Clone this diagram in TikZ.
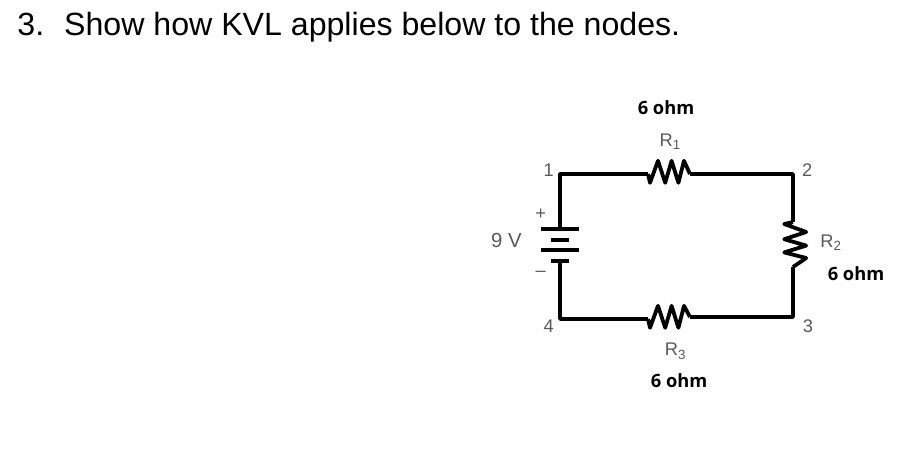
\documentclass[tikz,border=0pt]{standalone}
\usepackage{fontspec}
\setmainfont{Liberation Sans}
\newfontfamily\ohmfont{Open Sans}
\usetikzlibrary{calc,positioning}
\definecolor{labelgray}{gray}{0.35}
\newcommand{\sub}[1]{\raisebox{-0.35ex}{\fontsize{9.5}{11}\selectfont #1}}
\tikzset{
  wire/.style={line width=2.7pt,line join=round},
  res/.style={to path={-- ++(.05,-.22) -- ++(.2,.55) -- ++(.18,-.55) -- ++(.16,.55) -- ++(.17,-.55) -- ++(.14,.55) -- (\tikztotarget)}},
  longplate/.style={fill=black,inner sep=0,minimum width=0.95cm,minimum height=0.1cm},
  shortplate/.style={fill=black,inner sep=0,minimum width=0.45cm,minimum height=0.1cm},
  val/.style={font=\ohmfont\bfseries\fontsize{13}{15}\selectfont},
  rname/.style={text=labelgray,font=\fontsize{13}{15}\selectfont},
  num/.style={text=labelgray,font=\fontsize{13}{15}\selectfont}
}
\begin{document}
\begin{tikzpicture}
        \useasboundingbox (0,0) rectangle (23,11.85);
        \node [anchor=base west,inner sep=0] (Q) at (0.43,10.97) {\fontsize{22.85}{26}\selectfont 3.\hspace{0.62em}Show how KVL applies below to the nodes.};

        \coordinate (C1) at (14,7.5);
        \coordinate (C2) at (19.825,7.5);
        \coordinate (C3) at (19.825,3.925);
        \coordinate (C4) at (14,3.875);

        \coordinate (R1a) at (16.2,7.5);
        \coordinate (R1b) at (17.25,7.5);
        \coordinate (R2a) at (19.825,6.3);
        \coordinate (R2b) at (19.825,5.175);
        \coordinate (R3a) at (16.2,3.875);
        \coordinate (R3b) at (17.25,3.925);

        \node [longplate] (B1) at (14,6.125) {};
        \node [shortplate] (B2) at (14,5.85) {};
        \node [longplate] (B3) at (14,5.6) {};
        \node [shortplate] (B4) at (14,5.325) {};

        \draw[wire] (B1) -- (C1) -- (R1a);
        \draw[wire,res] (R1a) to (R1b);
        \draw[wire] (R1b) -- (C2) -- (R2a);
        \draw[wire,res,rotate=-90] (R2a) to (R2b);
        \draw[wire] (R2b) -- (C3) -- (R3b);
        \draw[wire,res] (R3a) to (R3b);
        \draw[wire] (R3a) -- (C4) -- (B4);

        \node [num] (N1) at (13.72,7.6) {1};
        \node [num] (N2) at (20.18,7.6) {2};
        \node [num] (N3) at (20.2,3.7) {3};
        \node [num] (N4) at (13.72,3.7) {4};
        \node [num] (Plus) at (13.52,6.5) {+};
        \node [num] (Minus) at (13.52,5) {--};
        \node [num,font=\fontsize{14.5}{16}\selectfont] (V) at (12.66,5.85) {9 V};

        \node [val] (V1) at (16.65,9.15) {6 ohm};
        \node [rname] (L1) at (16.75,8.3) {R\sub{1}};
        \node [rname] (L2) at (20.77,5.78) {R\sub{2}};
        \node [val] (V2) at (21.4,5.02) {6 ohm};
        \node [rname] (L3) at (16.88,3.07) {R\sub{3}};
        \node [val] (V3) at (16.98,2.33) {6 ohm};
    \end{tikzpicture}
\end{document}
